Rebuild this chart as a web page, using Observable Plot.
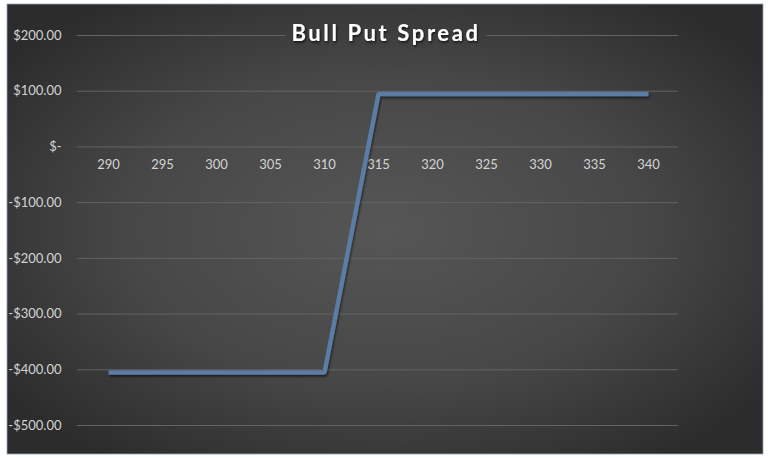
<!DOCTYPE html>
<html>
<head>
<meta charset="utf-8">
<script src="https://cdn.jsdelivr.net/npm/d3@7"></script>
<script src="https://cdn.jsdelivr.net/npm/@observablehq/plot@0.6"></script>
<style>
  html, body { margin: 0; padding: 0; background: #ffffff; }
  #chart { width: 768px; height: 458px; }
  svg { display: block; }
</style>
</head>
<body>
<div id="chart"></div>
<script>
const title = "Bull Put Spread";
const strikes = [290, 295, 300, 305, 310, 315, 320, 325, 330, 335, 340];
const profit = [-405, -405, -405, -405, -405, 95, 95, 95, 95, 95, 95];
const yTicks = [-500, -400, -300, -200, -100, 0, 100, 200];

const data = strikes.map((s, i) => ({strike: s, pl: profit[i]}));

const fmt = v => v === 0 ? "$-" : (v < 0 ? "-$" : "$") + Math.abs(v).toFixed(2);
const font = "Lato, 'Open Sans', sans-serif";

const chart = Plot.plot({
  width: 768,
  height: 458,
  marginLeft: 77,
  marginRight: 90,
  marginTop: 35,
  marginBottom: 33,
  style: {background: "transparent", fontFamily: font, color: "#d4d4d4"},
  x: {type: "point", domain: strikes, padding: 0.5, axis: null},
  y: {domain: [-500, 200], axis: null},
  marks: [
    Plot.gridY(yTicks, {stroke: "#646464", strokeOpacity: 1, strokeWidth: 1}),
    Plot.axisY(yTicks, {
      tickSize: 0, tickPadding: 16, tickFormat: fmt, label: null,
      fontSize: 13, fill: "#d4d4d4", fontFamily: font
    }),
    Plot.text(strikes, {
      x: d => d, y: () => 0, dy: 18, text: d => String(d),
      fontSize: 13, fill: "#d4d4d4", fontFamily: font
    }),
    Plot.line(data, {
      x: "strike", y: "pl", stroke: "#5b7ba3", strokeWidth: 4.5,
      strokeLinejoin: "miter", strokeLinecap: "butt", className: "pl-line"
    }),
    Plot.text([title], {
      frameAnchor: "top", dx: 8, dy: -10, text: d => d, fontSize: 22, fontWeight: "bold",
      fill: "#ffffff", fontFamily: font, className: "chart-title"
    })
  ]
});

const svg = d3.select(chart);
// background gradient + frame (user-space so any cover shape matches exactly)
const defs = svg.insert("defs", ":first-child");
const grad = defs.append("radialGradient").attr("id", "bgGrad")
  .attr("gradientUnits", "userSpaceOnUse")
  .attr("cx", 385).attr("cy", 229).attr("r", 470)
  .attr("gradientTransform", "translate(385,229) scale(1,0.6) translate(-385,-229)");
grad.append("stop").attr("offset", "0%").attr("stop-color", "#565656");
grad.append("stop").attr("offset", "55%").attr("stop-color", "#474747");
grad.append("stop").attr("offset", "100%").attr("stop-color", "#2c2c2c");
const sh = defs.append("filter").attr("id", "lineShadow")
  .attr("x", "-10%").attr("y", "-10%").attr("width", "120%").attr("height", "130%");
sh.append("feDropShadow").attr("dx", 1).attr("dy", 2).attr("stdDeviation", 1.2)
  .attr("flood-color", "#000").attr("flood-opacity", 0.55);
const tsh = defs.append("filter").attr("id", "titleShadow")
  .attr("x", "-10%").attr("y", "-30%").attr("width", "120%").attr("height", "160%");
tsh.append("feDropShadow").attr("dx", 1).attr("dy", 1.5).attr("stdDeviation", 1)
  .attr("flood-color", "#000").attr("flood-opacity", 0.7);

svg.insert("rect", "defs + *")
  .attr("x", 7).attr("y", 4).attr("width", 756).attr("height", 450)
  .attr("fill", "url(#bgGrad)")
  .attr("stroke", "#8fa2bd").attr("stroke-width", 0.8);

svg.selectAll(".pl-line path").attr("filter", "url(#lineShadow)");
const tt = svg.select(".chart-title text");
tt.attr("letter-spacing", "2.6px").attr("filter", "url(#titleShadow)");

document.getElementById("chart").appendChild(chart);

// cover the gridline behind the title with the same background fill
const node = tt.node();
if (node) {
  const sr = chart.getBoundingClientRect();
  const tr = node.getBoundingClientRect();
  const gNode = svg.select(".chart-title").node();
  svg.insert("rect", () => gNode)
    .attr("x", tr.left - sr.left - 6).attr("y", tr.top - sr.top)
    .attr("width", tr.width + 12).attr("height", tr.height)
    .attr("fill", "url(#bgGrad)");
}
</script>
</body>
</html>
